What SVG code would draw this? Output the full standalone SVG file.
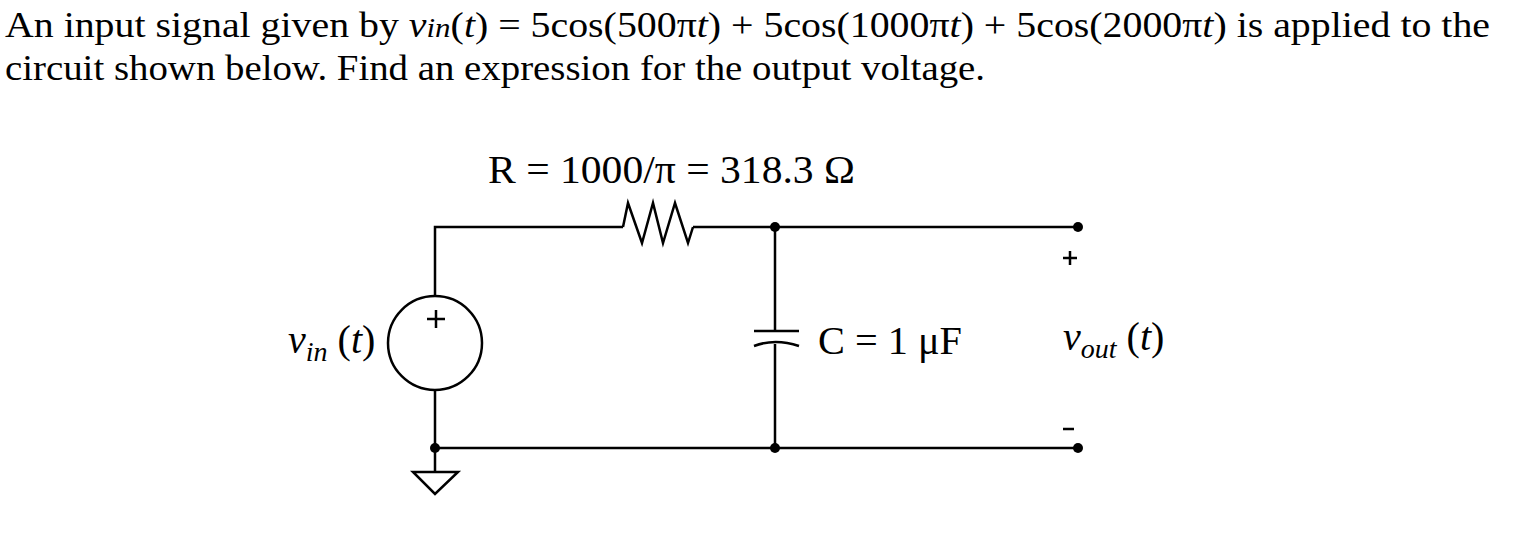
<svg xmlns="http://www.w3.org/2000/svg" width="1536" height="544" viewBox="0 0 1536 544">
<style>
.w{stroke:#000;stroke-width:2.5;fill:none}
.q{font-family:"Liberation Serif",serif;font-size:36px;fill:#000}
.t{font-family:"Liberation Serif",serif;font-size:40px;fill:#000}
</style>
<rect width="1536" height="544" fill="#fff"/>
<text class="q" x="5" y="37" textLength="1485" lengthAdjust="spacingAndGlyphs">An input signal given by <tspan font-style="italic">v</tspan><tspan font-style="italic" font-size="28">in</tspan>(<tspan font-style="italic">t</tspan>) = 5cos(500π<tspan font-style="italic">t</tspan>) + 5cos(1000π<tspan font-style="italic">t</tspan>) + 5cos(2000π<tspan font-style="italic">t</tspan>) is applied to the</text>
<text class="q" x="5" y="80" textLength="980" lengthAdjust="spacingAndGlyphs">circuit shown below. Find an expression for the output voltage.</text>
<g id="connectors">
<path class="w" d="M435,296 V227 H623 M693,227 H1078 M435,390 V472 M435,448 H1078 M775,227 V331 M775,344 V448"/>
<circle cx="775" cy="227" r="5"/><circle cx="1078" cy="227" r="5"/>
<circle cx="435" cy="448" r="5"/><circle cx="775" cy="448" r="5"/><circle cx="1078" cy="448" r="5"/>
</g>
<g id="resistor">
<polyline class="w" points="623,227 628,203 642,243 653,203 663,243 675,203 688,243 693,227"/>
<text class="t" x="488" y="183" textLength="367" lengthAdjust="spacingAndGlyphs">R = 1000/π = 318.3 Ω</text>
</g>
<g id="source">
<circle class="w" cx="435" cy="343" r="47"/>
<path class="w" d="M436,310 V328 M427,319 H445"/>
<text class="t" x="288" y="353"><tspan font-style="italic">v</tspan><tspan font-style="italic" font-size="28" dy="8">in</tspan><tspan dy="-8"> (</tspan><tspan font-style="italic">t</tspan>)</text>
</g>
<g id="capacitor">
<path class="w" d="M754,331 H799 M754,346 Q775,338 799,346"/>
<text class="t" x="818" y="354" textLength="144" lengthAdjust="spacingAndGlyphs">C = 1 μF</text>
</g>
<g id="ground">
<polygon class="w" points="413,472 458,472 435,494"/>
</g>
<g id="output">
<path class="w" d="M1063,258 H1077 M1070,251 V265 M1063,429 H1074"/>
<text class="t" x="1063" y="350"><tspan font-style="italic">v</tspan><tspan font-style="italic" font-size="28" dy="8">out</tspan><tspan dy="-8"> (</tspan><tspan font-style="italic">t</tspan>)</text>
</g>
</svg>
